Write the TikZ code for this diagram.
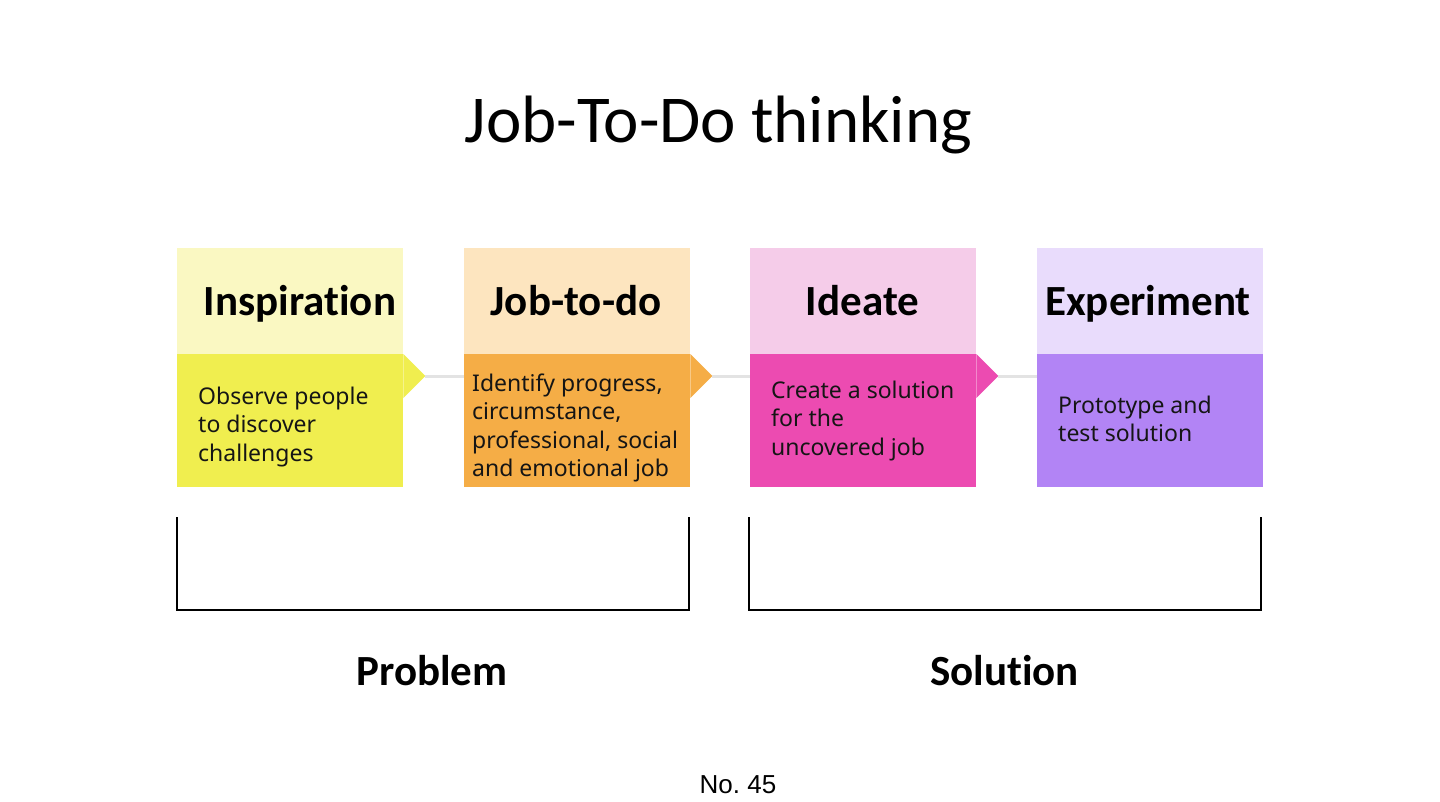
\documentclass[tikz,border=0pt]{standalone}
\usepackage{fontspec}
\setmainfont{Carlito}[Ligatures=NoCommon]
\newfontfamily\bodyfont{Noto Sans}
\newfontfamily\numfont{Liberation Sans}
\definecolor{yelL}{HTML}{FAF8C2}
\definecolor{yelD}{HTML}{F0EE4F}
\definecolor{orgL}{HTML}{FDE5BF}
\definecolor{orgD}{HTML}{F5AD46}
\definecolor{pnkL}{HTML}{F5CCE9}
\definecolor{pnkD}{HTML}{EC4BB1}
\definecolor{purL}{HTML}{E9DCFC}
\definecolor{purD}{HTML}{B284F5}
\definecolor{connC}{HTML}{E3E3E3}
\definecolor{txtC}{HTML}{151515}
\frenchspacing
\begin{document}
\begin{tikzpicture}[x=1pt,y=-1pt,
  hdrbox/.style={rectangle, minimum width=226pt, minimum height=106pt, inner sep=0pt, anchor=north west},
  bodybox/.style={rectangle, minimum width=226pt, minimum height=133pt, inner sep=0pt, anchor=north west},
  hdrtext/.style={font=\fontsize{43}{50}\selectfont\bfseries, anchor=base, inner sep=0pt},
  bodytext/.style={font=\bodyfont\fontsize{23}{28.5}\selectfont, anchor=base west, inner sep=0pt, text=txtC},
  conn/.style={draw=connC, line width=3pt},
  bracket/.style={draw=black, line width=2pt},
  labeltext/.style={font=\fontsize{43}{50}\selectfont\bfseries, anchor=base, inner sep=0pt}
]
\useasboundingbox (0,0) rectangle (1440,801);
\fill[white] (0,0) rectangle (1440,801);

% title
\node[font=\fontsize{67}{80}\selectfont, anchor=base, inner sep=0pt] (title) at (718.5,142) {Job-To-Do thinking};

% header boxes
\node[hdrbox, fill=yelL] (h1) at (177,248) {};
\node[hdrbox, fill=orgL] (h2) at (464,248) {};
\node[hdrbox, fill=pnkL] (h3) at (750,248) {};
\node[hdrbox, fill=purL] (h4) at (1037,248) {};

% body boxes
\node[bodybox, fill=yelD] (b1) at (177,354) {};
\node[bodybox, fill=orgD] (b2) at (464,354) {};
\node[bodybox, fill=pnkD] (b3) at (750,354) {};
\node[bodybox, fill=purD] (b4) at (1037,354) {};

% arrow notches
\fill[yelD] (b1.north east) -- ++(22,22) coordinate (tip1) -- ++(-22,22) -- cycle;
\fill[orgD] (b2.north east) -- ++(22,22) coordinate (tip2) -- ++(-22,22) -- cycle;
\fill[pnkD] (b3.north east) -- ++(22,22) coordinate (tip3) -- ++(-22,22) -- cycle;

% connectors
\draw[conn] (tip1) -- (b2.west |- tip1);
\draw[conn] (tip2) -- (b3.west |- tip2);
\draw[conn] (tip3) -- (b4.west |- tip3);

% header texts
\node[hdrtext] (t1) at (300,315) {Inspiration};
\node[hdrtext] (t2) at (576,315) {Job-to-do};
\node[hdrtext] (t3) at (862.5,315) {Ideate};
\node[hdrtext] (t4) at (1148,315) {Experiment};

% body texts
\node[bodytext] (d1) at (198,404) {\vtop{\hbox{Observe people}\hbox{to discover}\hbox{challenges}}};
\node[bodytext] (d2) at (472,391) {\vtop{\hbox{Identify progress,}\hbox{circumstance,}\hbox{professional, social}\hbox{and emotional job}}};
\node[bodytext] (d3) at (771,398) {\vtop{\hbox{Create a solution}\hbox{for the}\hbox{uncovered job}}};
\node[bodytext] (d4) at (1058,413) {\vtop{\hbox{Prototype and}\hbox{test solution}}};

% brackets
\coordinate (pA) at (177,517);
\coordinate (pB) at (689,517);
\coordinate (sA) at (749,517);
\coordinate (sB) at (1261,517);
\draw[bracket] (pA) -- ++(0,93) -| (pB);
\draw[bracket] (sA) -- ++(0,93) -| (sB);

% labels
\node[labeltext] (lp) at (432,685) {Problem};
\node[labeltext] (ls) at (1004.5,685) {Solution};

% page number
\node[font=\numfont\fontsize{26}{30}\selectfont, anchor=base, inner sep=0pt] (num) at (738,793) {No.\ 45};
\end{tikzpicture}
\end{document}
